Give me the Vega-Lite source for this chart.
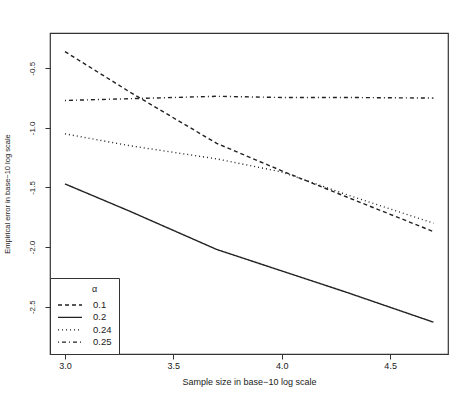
{
  "$schema": "https://vega.github.io/schema/vega-lite/v6.json",
  "width": 398,
  "height": 321,
  "autosize": {"type": "none"},
  "padding": {"left": 50, "top": 33, "right": 26, "bottom": 41},
  "background": "white",
  "config": {
    "locale": {"number": {"decimal": ".", "thousands": ",", "grouping": [3], "currency": ["$", ""], "minus": "-"}},
    "view": {"stroke": "#333", "strokeWidth": 1.2},
    "font": "Liberation Sans"
  },
  "data": {
    "values": [
      {"x": 3.0, "y": -0.36, "alpha": "0.1"},
      {"x": 3.3, "y": -0.70, "alpha": "0.1"},
      {"x": 3.7, "y": -1.13, "alpha": "0.1"},
      {"x": 4.0, "y": -1.36, "alpha": "0.1"},
      {"x": 4.3, "y": -1.58, "alpha": "0.1"},
      {"x": 4.7, "y": -1.87, "alpha": "0.1"},
      {"x": 3.0, "y": -1.47, "alpha": "0.2"},
      {"x": 3.3, "y": -1.70, "alpha": "0.2"},
      {"x": 3.7, "y": -2.02, "alpha": "0.2"},
      {"x": 4.0, "y": -2.20, "alpha": "0.2"},
      {"x": 4.3, "y": -2.38, "alpha": "0.2"},
      {"x": 4.7, "y": -2.63, "alpha": "0.2"},
      {"x": 3.0, "y": -1.05, "alpha": "0.24"},
      {"x": 3.3, "y": -1.15, "alpha": "0.24"},
      {"x": 3.7, "y": -1.26, "alpha": "0.24"},
      {"x": 4.0, "y": -1.37, "alpha": "0.24"},
      {"x": 4.3, "y": -1.56, "alpha": "0.24"},
      {"x": 4.7, "y": -1.80, "alpha": "0.24"},
      {"x": 3.0, "y": -0.77, "alpha": "0.25"},
      {"x": 3.3, "y": -0.755, "alpha": "0.25"},
      {"x": 3.7, "y": -0.735, "alpha": "0.25"},
      {"x": 4.0, "y": -0.745, "alpha": "0.25"},
      {"x": 4.3, "y": -0.745, "alpha": "0.25"},
      {"x": 4.7, "y": -0.75, "alpha": "0.25"}
    ]
  },
  "mark": {"type": "line", "color": "#222", "strokeWidth": 1.4},
  "encoding": {
    "x": {
      "field": "x", "type": "quantitative",
      "scale": {"domain": [2.931, 4.767], "nice": false, "zero": false},
      "axis": {
        "title": "Sample size in base−10 log scale",
        "values": [3.0, 3.5, 4.0, 4.5], "format": ".1f",
        "grid": false, "domain": false, "tickSize": 5, "tickColor": "#333",
        "labelFontSize": 9, "labelPadding": 2, "labelColor": "#222",
        "titleFontSize": 9, "titleFontWeight": "normal", "titlePadding": 7, "titleColor": "#222"
      }
    },
    "y": {
      "field": "y", "type": "quantitative",
      "scale": {"domain": [-2.897, -0.204], "nice": false, "zero": false},
      "axis": {
        "title": "Empirical error in base−10 log scale",
        "values": [-2.5, -2.0, -1.5, -1.0, -0.5], "format": ".1f",
        "grid": false, "domain": false, "tickSize": 5, "tickColor": "#333",
        "labelAngle": 270, "labelAlign": "center", "labelBaseline": "bottom",
        "labelFontSize": 8, "labelPadding": 9, "labelColor": "#222",
        "titleFontSize": 7.5, "titleFontWeight": "normal", "titlePadding": 17, "titleColor": "#222"
      }
    },
    "strokeDash": {
      "field": "alpha", "type": "nominal",
      "scale": {"domain": ["0.1", "0.2", "0.24", "0.25"], "range": [[4, 3], [1, 0], [1, 3], [1, 3, 4, 3]]},
      "legend": {
        "title": "\u200b\u00a0\u00a0\u00a0\u00a0\u00a0\u00a0\u00a0\u00a0\u00a0\u00a0\u00a0\u00a0\u00a0\u00a0α",
        "orient": "bottom-left", "offset": 0,
        "fillColor": "white", "strokeColor": "#333",
        "padding": 7,
        "titleFontSize": 9, "titleFontWeight": "normal", "titleColor": "#222", "titlePadding": 4,
        "labelFontSize": 9.5, "labelColor": "#222", "labelOffset": 22,
        "symbolType": "M-1,0H3", "symbolSize": 144, "symbolStrokeWidth": 1.3, "symbolStrokeColor": "#222",
        "rowPadding": 0.4
      }
    }
  }
}
